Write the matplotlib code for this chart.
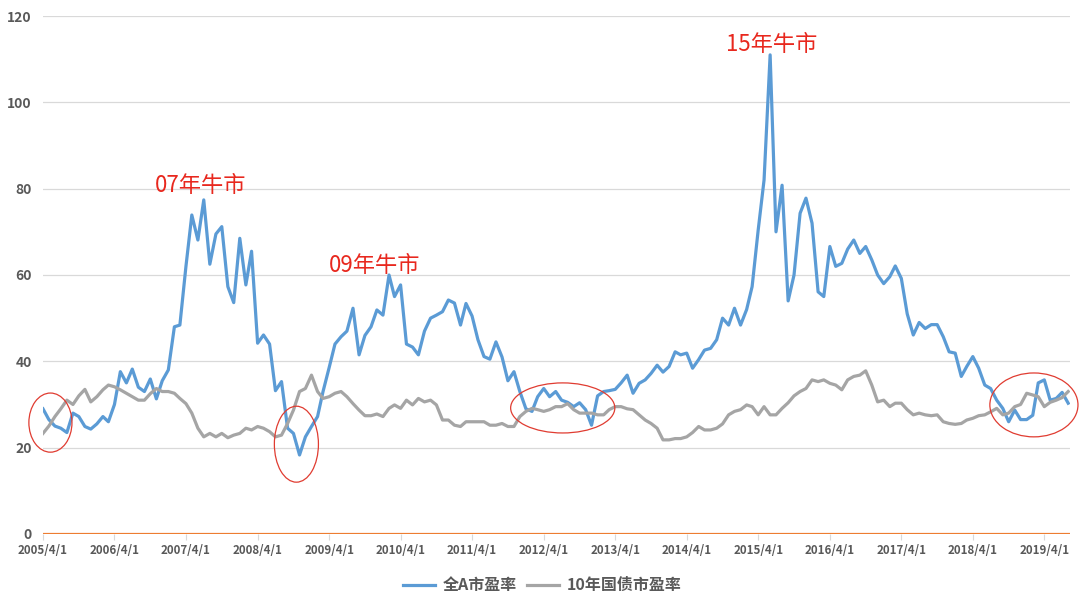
import numpy as np
import pandas as pd
import matplotlib
matplotlib.use('Agg')
import matplotlib.pyplot as plt
import matplotlib.dates as mdates
from matplotlib.patches import Ellipse

plt.rcParams['font.family'] = ['Noto Sans CJK SC', 'DejaVu Sans']

# Monthly values, 2005/4 .. 2019/8
start_date = '2005-04-01'
pe_all_a = [
    29, 26.5, 25, 24.5, 23.5, 28, 27.2, 24.9, 24.3, 25.5, 27.2, 26,
    30, 37.6, 35, 38.2, 34, 33, 35.9, 31.3, 35.5, 38, 48, 48.4,
    62, 73.9, 68.1, 77.4, 62.5, 69.5, 71.2, 57.3, 53.6, 68.5, 57.7, 65.5,
    44.2, 46.1, 44, 33.2, 35.3, 24.5, 23.3, 18.3, 22.5, 24.9, 27.2, 33,
    38.5, 44, 45.7, 47, 52.3, 41.5, 46, 48, 51.9, 50.7, 60, 55,
    57.7, 44, 43.3, 41.5, 47, 50, 50.7, 51.5, 54.2, 53.5, 48.4, 53.4,
    50.5, 45, 41.1, 40.5, 44.5, 41, 35.5, 37.6, 33, 29, 28.4, 31.8,
    33.7, 31.8, 33, 31, 30.5, 29.5, 30.4, 28.8, 25.2, 32, 33, 33.2,
    33.5, 35, 36.8, 32.6, 34.9, 35.7, 37.2, 39.1, 37.5, 38.8, 42.2, 41.5,
    41.9, 38.4, 40.4, 42.6, 43, 45, 50, 48.4, 52.3, 48.4, 52, 57.3,
    70.4, 82, 111, 70, 80.8, 54, 60, 74.3, 77.8, 72, 56.1, 55,
    66.6, 62, 62.7, 66, 68.1, 65, 66.6, 63.5, 60, 58, 59.6, 62.1,
    59.2, 51, 46.1, 49, 47.6, 48.5, 48.5, 45.7, 42.2, 41.9, 36.5, 38.8,
    41.1, 38.4, 34.5, 33.7, 31, 29.1, 26, 28.7, 26.5, 26.5, 27.5, 35,
    35.7, 31, 31.4, 32.8, 30.3,
]
pe_bond_10y = [
    23.3, 25, 27.2, 29, 31, 30, 32, 33.5, 30.6, 31.8, 33.4, 34.5,
    34.1, 33.4, 32.6, 31.8, 31, 31, 32.5, 33.7, 33, 33, 32.6, 31.4,
    30.2, 28, 24.5, 22.5, 23.3, 22.5, 23.3, 22.3, 22.9, 23.3, 24.5, 24.1,
    24.9, 24.5, 23.7, 22.5, 22.9, 25.6, 28.7, 33, 33.7, 36.8, 33, 31.4,
    31.8, 32.6, 33, 31.8, 30.2, 28.7, 27.4, 27.4, 27.8, 27.2, 29.1, 29.9,
    29.1, 31, 29.9, 31.4, 30.6, 31, 29.9, 26.4, 26.4, 25.2, 24.9, 26,
    26, 26, 26, 25.2, 25.2, 25.6, 24.9, 24.9, 27.2, 28.4, 29.1, 28.8,
    28.4, 28.8, 29.5, 29.5, 30.2, 28.8, 28, 28, 28, 27.6, 27.6, 28.8,
    29.5, 29.5, 29, 28.8, 27.6, 26.4, 25.6, 24.5, 21.8, 21.8, 22.1, 22.1,
    22.5, 23.5, 24.9, 24.1, 24.1, 24.5, 25.5, 27.6, 28.4, 28.8, 29.9, 29.5,
    27.6, 29.5, 27.6, 27.6, 29.1, 30.4, 32, 33, 33.7, 35.7, 35.3, 35.7,
    34.9, 34.5, 33.4, 35.7, 36.5, 36.8, 37.8, 34.5, 30.6, 31, 29.5, 30.3,
    30.3, 28.8, 27.6, 28, 27.6, 27.4, 27.6, 26, 25.6, 25.4, 25.6, 26.4,
    26.8, 27.4, 27.6, 28.3, 29.1, 27.6, 28, 29.5, 30, 32.6, 32.2, 31.8,
    29.5, 30.5, 31, 31.6, 33,
]
series_names = ['全A市盈率', '10年国债市盈率']

# bull market labels: (text, date, value)
bull_labels = [('07年牛市', '2007-06-17', 80.8),
               ('09年牛市', '2009-11-18', 62.3),
               ('15年牛市', '2015-06-07', 113.3)]
# red circles: (centre date, centre value, width in days, height)
circles = [('2005-05-09', 25.8, 220, 13.7),
           ('2008-10-16', 20.8, 225, 17.6),
           ('2012-07-07', 29.2, 532, 11.6),
           ('2019-02-07', 29.9, 450, 14.8)]

dates = pd.date_range(start_date, periods=len(pe_all_a), freq='MS')

fig = plt.figure(figsize=(10.8, 6.09), dpi=100)
ax = fig.add_axes([0.0398, 0.1232, 0.9509, 0.8505])

line_a, = ax.plot(dates, pe_all_a, color='#5B9BD5', lw=2.3, solid_joinstyle='round')
line_b, = ax.plot(dates, pe_bond_10y, color='#A5A5A5', lw=2.3, solid_joinstyle='round')
ax.axhline(0, color='#ED7D31', lw=1.6, zorder=3)

ax.set_ylim(0, 120)
ax.set_yticks(np.arange(0, 121, 20))
ax.set_xlim(pd.Timestamp('2005-04-01'), pd.Timestamp('2019-08-10'))
tick_dates = pd.date_range('2005-04-01', '2019-04-01', freq='12MS')
ax.set_xticks(tick_dates)
ax.set_xticklabels([f'{d.year}/{d.month}/{d.day}' for d in tick_dates])

ax.grid(axis='y', color='#D9D9D9', lw=0.9)
ax.set_axisbelow(True)
for s in ax.spines.values():
    s.set_visible(False)
ax.tick_params(axis='y', length=0, pad=8, labelsize=10, labelcolor='#595959')
ax.tick_params(axis='x', length=4, color='#D9D9D9', pad=3, labelsize=8.3, labelcolor='#595959')
for lbl in ax.get_xticklabels() + ax.get_yticklabels():
    lbl.set_fontweight('bold')

# annotations
for txt, d, v in bull_labels:
    ax.text(pd.Timestamp(d), v, txt, color='#E8281E', fontsize=16,
            ha='center', va='center')
for d, v, w, h in circles:
    ax.add_patch(Ellipse((mdates.date2num(pd.Timestamp(d)), v), w, h,
                         fill=False, edgecolor='#E03C31', lw=0.9, zorder=4,
                         clip_on=False))

fig.legend([line_a, line_b], series_names, loc='center', ncol=2,
           bbox_to_anchor=(0.502, 0.039), frameon=False,
           prop={'size': 11.5, 'weight': 'bold'},
           labelcolor='#595959', handlelength=2.0, columnspacing=0.6,
           handletextpad=0.5)

plt.savefig('out.png', dpi=100)
